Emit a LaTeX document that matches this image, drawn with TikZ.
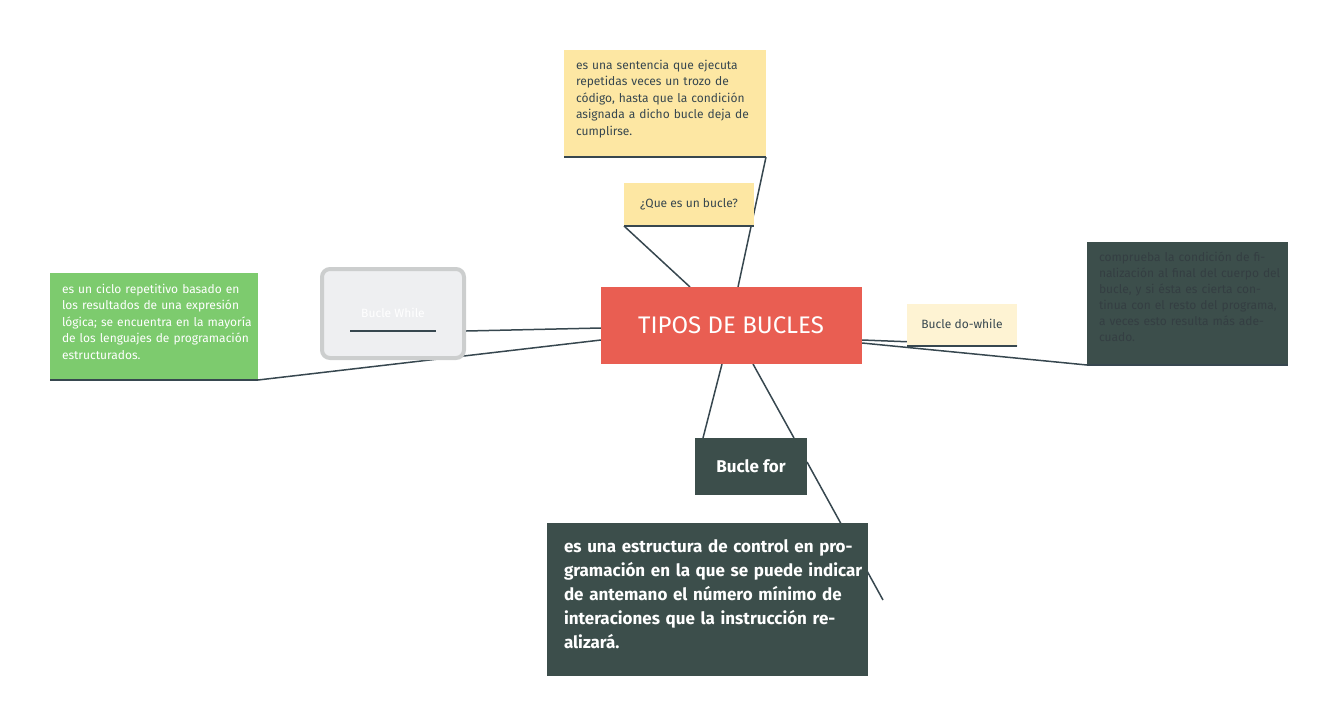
\documentclass[tikz,border=0pt]{standalone}
\usepackage{fontspec}
\setmainfont{Fira Sans}
\begin{document}
\begin{tikzpicture}[x=1pt,y=-1pt,
  ln/.style={draw=lc,line width=1.5pt},
  bx/.style={anchor=north west,inner sep=0pt,outer sep=0pt}]
\definecolor{lc}{HTML}{37474F}
\definecolor{yel}{HTML}{FDE7A3}
\definecolor{redc}{HTML}{E95E52}
\definecolor{grn}{HTML}{7DCB6E}
\definecolor{dk}{HTML}{3C4E4B}
\definecolor{pale}{HTML}{FEF3D3}
\useasboundingbox (0,0) rectangle (1338,726);
% lines
\coordinate (c1) at (738,287); \coordinate (t1) at (766,157);
\coordinate (c2) at (690,287); \coordinate (q1) at (624,226);
\coordinate (c3) at (601,328); \coordinate (w1) at (466,331);
\coordinate (c4) at (601,340); \coordinate (g1) at (258,380);
\coordinate (c5) at (862,340); \coordinate (d1) at (1017,346);
\coordinate (c6) at (862,343); \coordinate (k1) at (1087,365);
\coordinate (c7) at (722,364); \coordinate (f1) at (703,438);
\coordinate (c8) at (753,364); \coordinate (f2) at (794,438);
\coordinate (f3) at (807,462); \coordinate (e1) at (883,600);
\draw[ln] (c1)--(t1); \draw[ln] (c2)--(q1); \draw[ln] (c3)--(w1);
\draw[ln] (c4)--(g1); \draw[ln] (c5)--(d1); \draw[ln] (c6)--(k1);
\draw[ln] (c7)--(f1); \draw[ln] (c8)--(f2); \draw[ln] (f3)--(e1);
% top box
\fill[yel] (564,50) rectangle (766,157);
\draw[ln] (564,157)--(766,157);
\node[bx,text width=185pt,align=left,font=\fontsize{12}{16.5}\selectfont,text=lc] (top) at (576,60)
 {es una sentencia que ejecuta repetidas veces un trozo de código, hasta que la condición asignada a dicho bucle deja de cumplirse.};
\fill[yel] (624,183) rectangle (754,226);
\draw[ln] (624,226)--(754,226);
\node[font=\fontsize{12}{14}\selectfont,text=lc] (que) at (689,204) {¿Que es un bucle?};
% center
\fill[redc] (601,287) rectangle (862,364);
\node[font=\fontsize{24}{28}\selectfont,text=white] (cen) at (731,325) {TIPOS DE BUCLES};
% while
\draw[draw={rgb,255:red,204;green,206;blue,206},fill={rgb,255:red,238;green,239;blue,241},line width=4pt,rounded corners=8pt] (322,269) rectangle (464,358);
\node[font=\fontsize{12}{14}\selectfont,text=white] (wh) at (393,313) {Bucle While};
\draw[ln] (350,331)--(436,331);
% green
\fill[grn] (50,273) rectangle (258,380);
\draw[ln] (50,380)--(258,380);
\node[bx,text width=190pt,align=left,font=\fontsize{12}{16.5}\selectfont,text=white] (gr) at (62,284)
 {es un ciclo repetitivo basado en los resultados de una expresión lógica; se encuentra en la mayoría de los lenguajes de programación estructurados.};
% do-while
\fill[pale] (907,304) rectangle (1017,346);
\draw[ln] (907,346)--(1017,346);
\node[font=\fontsize{12}{14}\selectfont,text=lc] (dw) at (962,324) {Bucle do-while};
% dark right
\fill[dk] (1087,242) rectangle (1288,365);
\draw[ln] (1087,365)--(1288,365);
\node[bx,text width=185pt,align=left,font=\fontsize{12}{16}\selectfont,text={rgb,255:red,52;green,62;blue,66}] (dr) at (1099,252)
 {comprueba la condición de finalización al final del cuerpo del bucle, y si ésta es cierta continua con el resto del programa, a veces esto resulta más adecuado.};
% for
\fill[dk] (695,438) rectangle (807,495);
\node[font=\bfseries\fontsize{17}{20}\selectfont,text=white] (for) at (751,466) {Bucle for};
\fill[dk] (547,523) rectangle (868,676);
\node[bx,text width=300pt,align=left,font=\bfseries\fontsize{17}{24}\selectfont,text=white] (fd) at (564,540)
 {es una estructura de control en programación en la que se puede indicar de antemano el número mínimo de interaciones que la instrucción realizará.};
\end{tikzpicture}
\end{document}
